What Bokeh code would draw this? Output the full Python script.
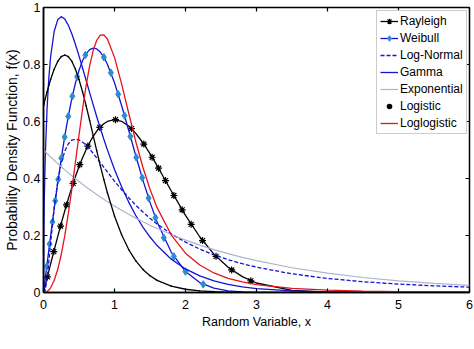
import math
from bokeh.plotting import figure
from bokeh.models import Range1d, FixedTicker, Legend, LegendItem
from bokeh.embed import file_html
from bokeh.resources import INLINE

# ---------------- data ----------------
x_grid = [0, 0.005, 0.01, 0.025, 0.05, 0.075, 0.1, 0.15, 0.2, 0.25, 0.3, 0.35, 0.4, 0.45,
          0.5, 0.55, 0.6, 0.65, 0.7, 0.75, 0.8, 0.85, 0.9, 1.0, 1.1, 1.2, 1.3, 1.4, 1.5, 1.6,
          1.8, 2.0, 2.2, 2.4, 2.6, 2.8, 3.0, 3.5, 4.0, 4.5, 5.0, 5.5, 6.0]

rayleigh = [0, 0.0050, 0.0100, 0.0250, 0.0499, 0.0748, 0.0995, 0.1483, 0.1960, 0.2423,
            0.2868, 0.3292, 0.3693, 0.4067, 0.4413, 0.4728, 0.5012, 0.5262, 0.5480, 0.5661,
            0.5809, 0.5923, 0.6002, 0.6065, 0.6007, 0.5841, 0.5584, 0.5254, 0.4870, 0.4449,
            0.3562, 0.2707, 0.1956, 0.1347, 0.0885, 0.0556, 0.0333, 0.0077, 0.0013, 0.0002,
            0.0, 0.0, 0.0]

weibull = [0, 0.0100, 0.0200, 0.0500, 0.0998, 0.1492, 0.1980, 0.2933, 0.3843, 0.4697,
           0.5484, 0.6193, 0.6817, 0.7351, 0.7788, 0.8129, 0.8372, 0.8520, 0.8577, 0.8547,
           0.8437, 0.8254, 0.8009, 0.7358, 0.6560, 0.5686, 0.4798, 0.3944, 0.3162, 0.2474,
           0.1410, 0.0733, 0.0348, 0.0151, 0.0060, 0.0022, 0.0007, 0.0, 0.0, 0.0,
           0.0, 0.0, 0.0]

lognormal = [0, 0.0, 0.0004, 0.0083, 0.0484, 0.1085, 0.1741, 0.2951, 0.3881, 0.4535,
             0.4963, 0.5220, 0.5349, 0.5385, 0.5355, 0.5276, 0.5165, 0.5030, 0.4881, 0.4723,
             0.4560, 0.4395, 0.4231, 0.3910, 0.3607, 0.3324, 0.3063, 0.2823, 0.2604, 0.2404,
             0.2056, 0.1766, 0.1525, 0.1323, 0.1153, 0.1010, 0.0888, 0.0655, 0.0493, 0.0379,
             0.0295, 0.0234, 0.0187]

gamma = [0, 0.2234, 0.3128, 0.4800, 0.6457, 0.7523, 0.8263, 0.9157, 0.9567, 0.9679,
         0.9594, 0.9376, 0.9070, 0.8704, 0.8302, 0.7879, 0.7446, 0.7012, 0.6585, 0.6167,
         0.5763, 0.5375, 0.5005, 0.4319, 0.3709, 0.3172, 0.2703, 0.2296, 0.1946, 0.1646,
         0.1170, 0.0827, 0.0581, 0.0407, 0.0284, 0.0197, 0.0137, 0.0054, 0.0021, 0.0008,
         0.0003, 0.0001, 0.0]

exponential = [0.5, 0.4988, 0.4975, 0.4938, 0.4877, 0.4816, 0.4756, 0.4639, 0.4524, 0.4412,
               0.4304, 0.4197, 0.4094, 0.3993, 0.3894, 0.3798, 0.3704, 0.3613, 0.3523, 0.3436,
               0.3352, 0.3269, 0.3188, 0.3033, 0.2885, 0.2744, 0.2610, 0.2483, 0.2362, 0.2247,
               0.2033, 0.1839, 0.1664, 0.1506, 0.1363, 0.1233, 0.1116, 0.0869, 0.0677, 0.0527,
               0.0410, 0.0320, 0.0249]

logistic = [0.6554, 0.6604, 0.6654, 0.6802, 0.7039, 0.7263, 0.7472, 0.7833, 0.8106, 0.8276,
            0.8333, 0.8276, 0.8106, 0.7833, 0.7472, 0.7039, 0.6554, 0.6036, 0.5503, 0.4972,
            0.4454, 0.3961, 0.3500, 0.2686, 0.2025, 0.1506, 0.1109, 0.0810, 0.0589, 0.0426,
            0.0222, 0.0114, 0.0059, 0.0030, 0.0016, 0.0008, 0.0004, 0.0001, 0.0, 0.0,
            0.0, 0.0, 0.0]

loglogistic = [0, 0, 0, 0.0007, 0.0034, 0.0085, 0.0165, 0.0419, 0.0806, 0.1333,
               0.1994, 0.2774, 0.3647, 0.4578, 0.5523, 0.6431, 0.7255, 0.7951, 0.8490, 0.8851,
               0.9032, 0.9040, 0.8895, 0.8250, 0.7318, 0.6289, 0.5291, 0.4394, 0.3622, 0.2977,
               0.2015, 0.1381, 0.0964, 0.0686, 0.0499, 0.0369, 0.0278, 0.0146, 0.0083, 0.0051,
               0.0032, 0.0021, 0.0015]

rayleigh_mk_x = [0.055, 0.145, 0.24, 0.324, 0.418, 0.511, 0.624, 0.793, 1.014, 1.239, 1.413,
                 1.53, 1.62, 1.718, 1.836, 1.953, 2.08, 2.24, 2.43, 2.65, 2.92]
rayleigh_mk_y = [0.0549, 0.1435, 0.2332, 0.3074, 0.3830, 0.4485, 0.5137, 0.5791, 0.6064, 0.5751,
                 0.5208, 0.4746, 0.4361, 0.3927, 0.3403, 0.2901, 0.2392, 0.1823, 0.1268, 0.0791,
                 0.0411]

weibull_mk_x = [0.046, 0.0855, 0.1255, 0.1655, 0.207, 0.251, 0.298, 0.349, 0.406, 0.474, 0.59,
                0.85, 0.949, 1.052, 1.141, 1.224, 1.307, 1.39, 1.48, 1.577, 1.694, 1.835, 2.0, 2.25]
weibull_mk_y = [0.0918, 0.1698, 0.2471, 0.3219, 0.3967, 0.4714, 0.5453, 0.6180, 0.6886, 0.7573,
                0.8331, 0.8254, 0.7712, 0.6956, 0.6207, 0.5474, 0.4737, 0.4026, 0.3312, 0.2624,
                0.1921, 0.1267, 0.0733, 0.0285]

x_ticks = [0, 1, 2, 3, 4, 5, 6]
y_ticks = [0, 0.2, 0.4, 0.6, 0.8, 1]
y_tick_labels = ["0", "0.2", "0.4", "0.6", "0.8", "1"]

series_names = ["Rayleigh", "Weibull", "Log-Normal", "Gamma", "Exponential", "Logistic", "Loglogistic"]

# ---------------- styling ----------------
FONT = "Liberation Sans"
BLUE = "#1414d2"
LBLUE = "#2b8cd4"
GRAY = "#b2b2cc"
RED = "#e5141c"

p = figure(width=474, height=349, output_backend="svg", toolbar_location=None,
           x_range=Range1d(0, 6), y_range=Range1d(0, 1),
           min_border_left=43, min_border_right=5, min_border_top=7, min_border_bottom=57)
p.xgrid.visible = False
p.ygrid.visible = False
p.outline_line_color = "black"
p.outline_line_width = 1.5
p.background_fill_color = "white"
p.border_fill_color = "white"

for ax, ticks in ((p.xaxis[0], x_ticks), (p.yaxis[0], y_ticks)):
    ax.ticker = FixedTicker(ticks=ticks)
    ax.major_tick_in = 4
    ax.major_tick_out = 0
    ax.minor_tick_line_color = None
    ax.axis_line_width = 1.5
    ax.axis_line_color = "black"
    ax.major_tick_line_width = 1.2
    ax.major_tick_line_color = "black"
    ax.major_label_text_font = FONT
    ax.major_label_text_color = "black"
    ax.major_label_text_font_size = "12.5px"
    ax.axis_label_text_font = FONT
    ax.axis_label_text_font_style = "normal"
    ax.axis_label_text_color = "black"

p.xaxis[0].major_label_standoff = 7
p.xaxis[0].axis_label = "Random Variable, x"
p.xaxis[0].axis_label_text_font_size = "12.5px"
p.xaxis[0].axis_label_standoff = 3

p.yaxis[0].major_label_overrides = dict(zip(y_ticks, y_tick_labels))
p.yaxis[0].major_label_standoff = 3
p.yaxis[0].axis_label = "Probability Density Function, f(x)"
p.yaxis[0].axis_label_text_font_size = "14px"
p.yaxis[0].axis_label_standoff = 0

# inward tick marks on the top and right frame edges (no labels there)
p.scatter(x_ticks, [1] * len(x_ticks), marker="dash", angle=math.pi / 2, size=8,
          line_color="black", line_width=1.2)
p.scatter([6] * len(y_ticks), y_ticks, marker="dash", size=8,
          line_color="black", line_width=1.2)

LW = 1.3
r_ray = p.line(x_grid, rayleigh, line_color="black", line_width=LW)
r_ray_m = p.scatter(rayleigh_mk_x, rayleigh_mk_y, marker="asterisk", size=7,
                    line_color="black", line_width=1.2)
r_wei = p.line(x_grid, weibull, line_color=BLUE, line_width=LW)
r_wei_m = p.scatter(weibull_mk_x, weibull_mk_y, marker="diamond", size=7.5,
                    fill_color=LBLUE, line_color=LBLUE)
r_logn = p.line(x_grid, lognormal, line_color=BLUE, line_width=LW, line_dash="4 2")
r_gam = p.line(x_grid, gamma, line_color=BLUE, line_width=LW)
r_exp = p.line(x_grid, exponential, line_color=GRAY, line_width=1.2)
r_logi_dot = p.scatter(x_grid, logistic, marker="circle", size=1.6,
                       fill_color="black", line_color=None)
r_logi = p.line(x_grid, logistic, line_color="black", line_width=LW)
r_llog = p.line(x_grid, loglogistic, line_color=RED, line_width=LW)

legend_renderers = [[r_ray, r_ray_m], [r_wei, r_wei_m], [r_logn], [r_gam], [r_exp],
                    [r_logi_dot], [r_llog]]
legend = Legend(items=[LegendItem(label=n, renderers=r) for n, r in zip(series_names, legend_renderers)],
                location=(333, 158))
legend.label_text_font = FONT
legend.label_text_font_size = "12px"
legend.label_text_color = "black"
legend.glyph_width = 18
legend.glyph_height = 14
legend.label_height = 14
legend.spacing = 3
legend.padding = 3
legend.margin = 0
legend.label_standoff = 2
legend.border_line_color = "#9a9a9a"
legend.border_line_width = 1
legend.background_fill_color = "white"
legend.background_fill_alpha = 1.0
p.add_layout(legend)

open("out.html", "w").write(file_html(p, INLINE))
